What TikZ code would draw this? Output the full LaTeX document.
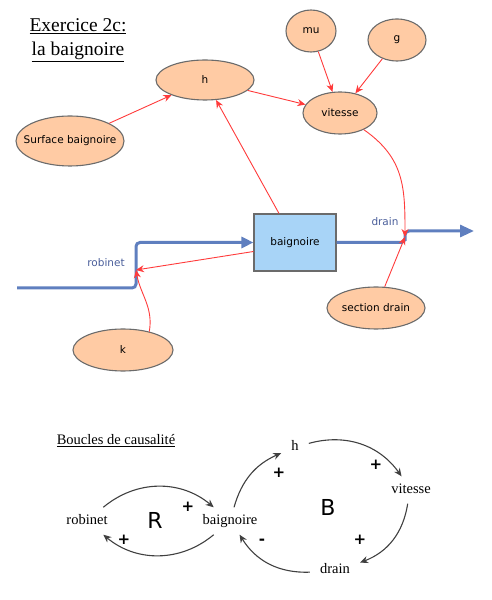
\documentclass[tikz,border=0pt]{standalone}
\usepackage{fontspec}
\setmainfont{Liberation Serif}
\newfontfamily\comic{DejaVu Sans}
\usetikzlibrary{shapes.geometric,arrows.meta}
\definecolor{peach}{HTML}{FFCBA4}
\definecolor{rim}{HTML}{6B6B6B}
\definecolor{stock}{HTML}{A8D4F7}
\definecolor{flow}{HTML}{5F7FBF}
\definecolor{flowtext}{HTML}{4A5E9A}
\definecolor{infl}{HTML}{FF3B3B}
\definecolor{loopc}{HTML}{404040}

\begin{document}
\begin{tikzpicture}[x=1pt,y=1pt,
    var/.style={ellipse, draw=rim, line width=1.1pt, fill=peach, inner sep=0pt,
      font=\comic\fontsize{10.5}{12}\selectfont},
    lvl/.style={rectangle, draw=rim, line width=1.1pt, fill=stock, inner sep=0pt,
      minimum width=82pt, minimum height=57pt, font=\comic\fontsize{10.5}{12}\selectfont},
    inf/.style={draw=infl, line width=0.9pt, -{Stealth[length=8pt,width=7pt]}},
    pipe/.style={draw=flow, line width=3pt, rounded corners=4pt},
    lab/.style={font=\comic\fontsize{10.5}{12}\selectfont, text=flowtext},
    word/.style={inner sep=10pt, text height=0.7em, text depth=0pt,
      font=\fontsize{14.5}{17}\selectfont},
    cau/.style={draw=loopc, line width=1.1pt, -{Stealth[length=8pt,width=7pt]}},
    sgn/.style={font=\comic\bfseries\fontsize{15}{16}\selectfont}]
  \useasboundingbox (0,0) rectangle (491,600);
  % stock and flow diagram
  \node[align=center, font=\fontsize{19.5}{24}\selectfont] (t) at (78,560)
    {\underline{Exercice 2c:}\\\underline{la baignoire}};
  \node[var, minimum width=98pt, minimum height=40pt] (h) at (205,520) {h};
  \node[var, minimum width=108pt, minimum height=50pt] (surf) at (70,459)
    {\makebox[0pt]{Surface baignoire}};
  \node[var, minimum width=50pt, minimum height=42pt] (mu) at (311,569) {mu};
  \node[var, minimum width=58pt, minimum height=42pt] (g) at (397,560) {g};
  \node[var, minimum width=74pt, minimum height=42pt] (vit) at (340,487) {vitesse};
  \node[lvl] (bai) at (295,357.5) {baignoire};
  \node[var, minimum width=98pt, minimum height=42pt] (sec) at (376,292)
    {\makebox[0pt]{section drain}};
  \node[var, minimum width=100pt, minimum height=42pt] (k) at (123,250) {k};
  \coordinate (src) at (17,312);
  \coordinate (snk) at (474,369);
  \coordinate (vr) at (136,330);
  \coordinate (vd) at (405,363);
  \node[lab] (rl) at (106,337) {robinet};
  \node[lab] (dl) at (385,378) {drain};
  \draw[pipe, -{Triangle[length=12pt,width=11pt]}] (src) -| (vr) |- (bai.west);
  \draw[pipe, -{Triangle[length=14pt,width=12pt]}] (bai.east) -| (vd) |- (snk);
  \draw[inf] (surf) -- (h);
  \draw[inf] ([xshift=-16pt]bai.north) -- (h);
  \draw[inf] (h) -- (vit);
  \draw[inf] (mu) -- (vit);
  \draw[inf] (g) -- (vit);
  \draw[inf] (vit) to[out=-35,in=90,looseness=1.1] (vd);
  \draw[inf] (sec) -- (vd);
  \draw[inf] ([yshift=-9pt]bai.west) -- (vr);
  \draw[inf] (k.35) to[out=80,in=-80] (vr);
  % causal loops
  \node[font=\fontsize{14.5}{17}\selectfont] (bc) at (116,159) {\underline{Boucles de causalité}};
  \node[word] (lr) at (87,79) {robinet};
  \node[word] (lb) at (230,79) {baignoire};
  \node[word] (lh) at (295,153) {h};
  \node[word] (lv) at (411,110) {vitesse};
  \node[word] (ld) at (335,30) {drain};
  \node[font=\comic\fontsize{22}{24}\selectfont] (R) at (155,80) {R};
  \node[font=\comic\fontsize{22}{24}\selectfont] (B) at (328,93) {B};
  \draw[cau] (lr) to[bend left=40] (lb);
  \draw[cau] (lb) to[bend left=40] (lr);
  \draw[cau] (lb) to[bend left=25] (lh);
  \draw[cau] (lh) to[bend left=35] (lv);
  \draw[cau] (lv) to[bend left=30] (ld);
  \draw[cau] (ld) to[bend left=30] (lb);
  \node[sgn] (p1) at (188,93) {+};
  \node[sgn] (p2) at (124,60) {+};
  \node[sgn] (p3) at (279,127) {+};
  \node[sgn] (p4) at (376,135) {+};
  \node[sgn] (p5) at (360,60) {+};
  \node[sgn] (m1) at (262,58) {-};
\end{tikzpicture}
\end{document}
